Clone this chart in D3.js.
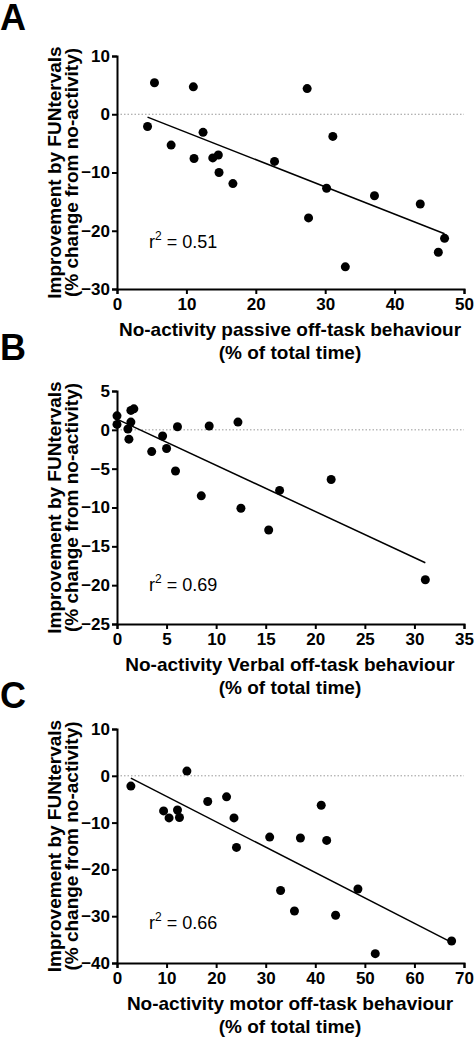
<!DOCTYPE html>
<html>
<head>
<meta charset="utf-8">
<script src="https://cdn.jsdelivr.net/npm/d3@7"></script>
<style>
  body { margin: 0; background: #fff; }
  text { font-family: "Liberation Sans", Arial, sans-serif; }
</style>
</head>
<body>
<svg id="chart" width="474" height="1039"></svg>
<script>
// Panel A: passive off-task
var passiveX = [4.4, 5.4, 7.8, 11, 11.1, 12.4, 13.8, 14.6, 14.7, 16.7, 22.7, 27.4, 27.6, 30.2, 31.1, 32.9, 37.1, 43.7, 46.3, 47.2];
var passiveY = [-2.1, 5.4, -5.3, 4.7, -7.6, -3.1, -7.5, -7.0, -10, -11.9, -8.1, 4.4, -17.8, -12.7, -3.8, -26.2, -14, -15.4, -23.7, -21.3];
// Panel B: verbal off-task
var verbalX = [0, 0, 1.1, 1.2, 1.4, 1.4, 1.7, 3.5, 4.6, 5, 5.9, 6.1, 8.5, 9.3, 12.2, 12.5, 15.3, 16.4, 21.6, 31.1];
var verbalY = [1.8, 0.7, 0.1, -1.2, 1.0, 2.5, 2.7, -2.8, -0.8, -2.4, -5.3, 0.4, -8.5, 0.5, 1.0, -10.1, -12.9, -7.8, -6.4, -19.3];
// Panel C: motor off-task
var motorX = [2.8, 9.4, 10.5, 12.2, 12.6, 14.1, 18.3, 22.1, 23.6, 24.1, 30.8, 33.0, 35.8, 37.0, 41.2, 42.3, 44.1, 48.6, 52.1, 67.5];
var motorY = [-2.2, -7.5, -9.0, -7.3, -8.9, 1.0, -5.5, -4.5, -9, -15.3, -13.1, -24.5, -28.9, -13.3, -6.3, -13.8, -29.8, -24.2, -38, -35.3];

var xTicksA = [0, 10, 20, 30, 40, 50], yTicksA = [10, 0, -10, -20, -30];
var xTicksB = [0, 5, 10, 15, 20, 25, 30, 35], yTicksB = [5, 0, -5, -10, -15, -20, -25];
var xTicksC = [0, 10, 20, 30, 40, 50, 60, 70], yTicksC = [10, 0, -10, -20, -30, -40];

var panels = [
  { letter: "A", letterY: 30, top: 56, bottom: 289, xs: passiveX, ys: passiveY, xt: xTicksA, yt: yTicksA,
    xlab: "No-activity passive off-task behaviour", r2: "0.51", r2y: -23 },
  { letter: "B", letterY: 360, top: 391, bottom: 624, xs: verbalX, ys: verbalY, xt: xTicksB, yt: yTicksB,
    xlab: "No-activity Verbal off-task behaviour", r2: "0.69", r2y: -20.7 },
  { letter: "C", letterY: 708, top: 729, bottom: 963, xs: motorX, ys: motorY, xt: xTicksC, yt: yTicksC,
    xlab: "No-activity motor off-task behaviour", r2: "0.66", r2y: -32.8 }
];

var svg = d3.select("#chart");
var left = 117, right = 464;

panels.forEach(function (p) {
  var x = d3.scaleLinear().domain(d3.extent(p.xt)).range([left, right]);
  var y = d3.scaleLinear().domain(d3.extent(p.yt)).range([p.bottom, p.top]);
  var g = svg.append("g");

  g.append("text").attr("x", 0).attr("y", p.letterY).attr("font-size", 36)
    .attr("font-weight", "bold").text(p.letter);

  // zero line
  g.append("line").attr("x1", left).attr("x2", right).attr("y1", y(0)).attr("y2", y(0))
    .attr("stroke", "#999").attr("stroke-dasharray", "1.5,2").attr("stroke-width", 1);

  var xAxis = g.append("g").attr("transform", "translate(0," + p.bottom + ")")
    .call(d3.axisBottom(x).tickValues(p.xt).tickSize(5).tickPadding(4).tickFormat(d3.format("d")));
  var yAxis = g.append("g").attr("transform", "translate(" + left + ",0)")
    .call(d3.axisLeft(y).tickValues(p.yt).tickSize(5).tickPadding(2).tickFormat(d3.format("d")));
  [xAxis, yAxis].forEach(function (a) {
    a.select(".domain").attr("stroke-width", 2).attr("stroke", "#000");
    a.selectAll(".tick line").attr("stroke-width", 2).attr("stroke", "#000");
    a.selectAll(".tick text").attr("font-size", 17).attr("font-weight", "bold")
      .attr("fill", "#000").style("font-family", "Liberation Sans, Arial, sans-serif");
  });

  // least-squares fit
  var mx = d3.mean(p.xs), my = d3.mean(p.ys);
  var sxy = d3.sum(p.xs, function (v, i) { return (v - mx) * (p.ys[i] - my); });
  var sxx = d3.sum(p.xs, function (v) { return (v - mx) * (v - mx); });
  var b = sxy / sxx, a0 = my - b * mx;
  var ex = d3.extent(p.xs);
  g.append("line").attr("x1", x(ex[0])).attr("y1", y(a0 + b * ex[0]))
    .attr("x2", x(ex[1])).attr("y2", y(a0 + b * ex[1]))
    .attr("stroke", "#000").attr("stroke-width", 1.5);

  g.selectAll("circle").data(p.xs).enter().append("circle")
    .attr("cx", function (d) { return x(d); })
    .attr("cy", function (d, i) { return y(p.ys[i]); })
    .attr("r", 4.5).attr("fill", "#000");

  var t = g.append("text").attr("x", 149).attr("y", y(p.r2y)).attr("font-size", 18);
  t.append("tspan").text("r");
  t.append("tspan").attr("font-size", 12).attr("dy", -8).text("2");
  t.append("tspan").attr("dy", 8).text(" = " + p.r2);

  var yl = g.append("text").attr("transform", "translate(61," + ((p.top + p.bottom) / 2) + ") rotate(-90)")
    .attr("text-anchor", "middle").attr("font-size", 19).attr("font-weight", "bold");
  yl.append("tspan").attr("x", 0).attr("dy", 0).text("Improvement by FUNtervals");
  yl.append("tspan").attr("x", 0).attr("dy", 17).text("(% change from no-activity)");

  var xl = g.append("text").attr("text-anchor", "middle").attr("font-size", 19).attr("font-weight", "bold");
  xl.append("tspan").attr("x", 290).attr("y", p.bottom + 47).text(p.xlab);
  xl.append("tspan").attr("x", 290).attr("y", p.bottom + 70).text("(% of total time)");
});
</script>
</body>
</html>
